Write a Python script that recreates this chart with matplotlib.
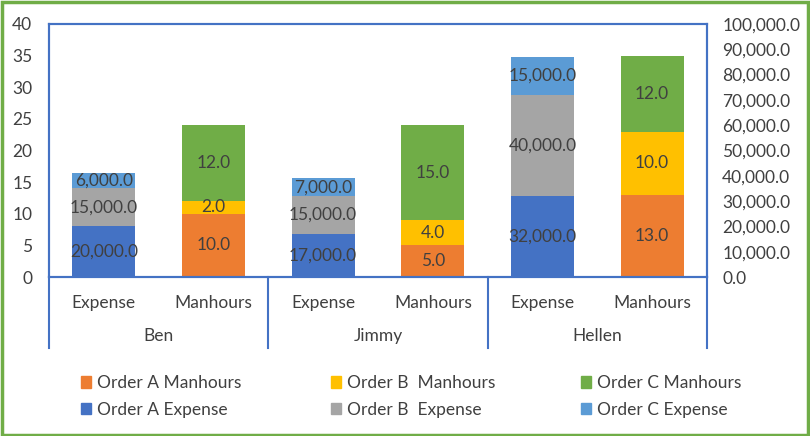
import matplotlib
matplotlib.use('Agg')
import matplotlib.pyplot as plt
import matplotlib.transforms as mtransforms
from matplotlib.patches import Patch, Rectangle

plt.rcParams['font.family'] = ['Lato', 'DejaVu Sans']

# data
people = ['Ben', 'Jimmy', 'Hellen']
kinds = ['Expense', 'Manhours']
manhours_a = [10.0, 5.0, 13.0]
manhours_b = [2.0, 4.0, 10.0]
manhours_c = [12.0, 15.0, 12.0]
expense_a = [20000.0, 17000.0, 32000.0]
expense_b = [15000.0, 15000.0, 40000.0]
expense_c = [6000.0, 7000.0, 15000.0]

c_a_man = '#ED7D31'
c_b_man = '#FFC000'
c_c_man = '#70AD47'
c_a_exp = '#4472C4'
c_b_exp = '#A5A5A5'
c_c_exp = '#5B9BD5'
txt = '#404040'
blue = '#4472C4'
fs = 12.5

fig = plt.figure(figsize=(8.1, 4.36), dpi=100)
ax = fig.add_axes([49/810, 1 - 277/436, (707 - 49)/810, (277 - 24)/436])
ax2 = ax.twinx()

exp_x = [0, 2, 4]
man_x = [1, 3, 5]
w = 0.575

# manhours on left axis
bottom = [0, 0, 0]
for vals, col in [(manhours_a, c_a_man), (manhours_b, c_b_man), (manhours_c, c_c_man)]:
    ax.bar(man_x, vals, w, bottom=bottom, color=col, zorder=2)
    for x, v, b in zip(man_x, vals, bottom):
        ax.text(x, b + v/2, '%.1f' % v, ha='center', va='center', fontsize=fs, color=txt, zorder=3)
    bottom = [b + v for b, v in zip(bottom, vals)]

# expense on right axis
bottom = [0, 0, 0]
for vals, col in [(expense_a, c_a_exp), (expense_b, c_b_exp), (expense_c, c_c_exp)]:
    ax2.bar(exp_x, vals, w, bottom=bottom, color=col, zorder=2)
    for x, v, b in zip(exp_x, vals, bottom):
        ax2.text(x, b + v/2, '{:,.1f}'.format(v), ha='center', va='center', fontsize=fs, color=txt, zorder=3)
    bottom = [b + v for b, v in zip(bottom, vals)]

ax.set_xlim(-0.5, 5.5)
ax.set_ylim(0, 40)
ax2.set_ylim(0, 100000)
ax.set_yticks(range(0, 41, 5))
ax2.set_yticks(range(0, 100001, 10000))
ax2.set_yticklabels(['{:,.1f}'.format(v) for v in range(0, 100001, 10000)])

for a in (ax, ax2):
    a.tick_params(axis='y', length=0, labelsize=fs, labelcolor=txt)
    for s in a.spines.values():
        s.set_color(blue)
        s.set_linewidth(1.5)
ax.tick_params(axis='y', pad=12)
ax2.tick_params(axis='y', pad=11)

ax.set_xticks(range(6))
ax.set_xticklabels(kinds * 3)
ax.tick_params(axis='x', length=0, labelsize=fs, labelcolor=txt, pad=13)

trans = mtransforms.blended_transform_factory(ax.transData, ax.transAxes)
depth = -(348 - 277) / 253
for xb in [-0.5, 1.5, 3.5, 5.5]:
    ax.plot([xb, xb], [0, depth], color=blue, lw=1.5, transform=trans, clip_on=False)
for i, p in enumerate(people):
    ax.text(2*i + 0.5, -(336 - 277)/253, p, ha='center', va='center', fontsize=fs, color=txt, transform=trans)

# legend: three columns placed separately
columns = [([c_a_man, c_a_exp], ['Order A Manhours', 'Order A Expense'], 81),
           ([c_b_man, c_b_exp], ['Order Β  Manhours', 'Order Β  Expense'], 331),
           ([c_c_man, c_c_exp], ['Order C Manhours', 'Order C Expense'], 581)]
for cols, labels, x0 in columns:
    handles = [Patch(color=c, label=l) for c, l in zip(cols, labels)]
    leg = fig.legend(handles=handles, loc='center left', bbox_to_anchor=(x0/810, 1 - 396.5/436),
                     frameon=False, fontsize=fs, handlelength=0.6, handleheight=0.6,
                     handletextpad=0.35, labelspacing=0.62, borderaxespad=0, borderpad=0)
    for t in leg.get_texts():
        t.set_color(txt)

fig.patches.append(Rectangle((0.002, 0.003), 0.995, 0.993, transform=fig.transFigure,
                             fill=False, edgecolor='#70AD47', lw=2.5))

fig.savefig('out.png', dpi=100)
